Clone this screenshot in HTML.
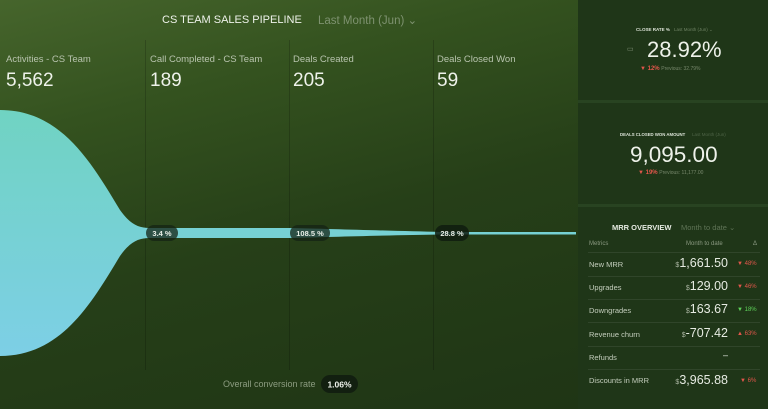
<!DOCTYPE html>
<html><head><meta charset="utf-8"><style>
*{margin:0;padding:0;box-sizing:border-box}
body{width:768px;height:409px;overflow:hidden;font-family:"Liberation Sans",sans-serif;background:#23381a;position:relative}
.main{position:absolute;left:0;top:0;width:578px;height:409px;background:linear-gradient(165deg,#46652c 0%,#34521f 25%,#263f18 55%,#1f3515 100%)}
.side{position:absolute;left:578px;top:0;width:190px;height:409px;background:#1f3618}
.t{position:absolute;white-space:nowrap}
.lbl{font-size:9.5px;color:#b8c4ae}
.big{font-size:19px;color:#eef2ea}
.vl{position:absolute;top:40px;width:1px;height:330px;background:rgba(0,0,0,0.18)}
.row{position:absolute;left:588px;width:172px;height:1px;background:rgba(255,255,255,0.08)}
.ml{font-size:7.5px;color:#c4cebd}
.mv{font-size:12.5px;color:#e6ebe2;text-align:right}
.mv small{font-size:7px;color:#aab5a2}
.red{color:#e2564b}.grn{color:#5fd35a}
.pc{font-size:6px}
</style></head><body>
<div class="main"></div>
<div class="side"></div>
<div style="position:absolute;left:578px;top:100px;width:190px;height:3px;background:#284321"></div>
<div style="position:absolute;left:578px;top:204px;width:190px;height:3px;background:#284321"></div>

<div class="vl" style="left:145px"></div>
<div class="vl" style="left:289px"></div>
<div class="vl" style="left:433px"></div>

<div class="t" style="left:162px;top:14px;font-size:11px;color:#eef2ea">CS TEAM SALES PIPELINE</div>
<div class="t" style="left:318px;top:13px;font-size:11.5px;color:#7e9270">Last Month (Jun) ⌄</div>

<div class="t lbl" style="left:6px;top:54px">Activities - CS Team</div>
<div class="t big" style="left:6px;top:70px">5,562</div>
<div class="t lbl" style="left:150px;top:54px">Call Completed - CS Team</div>
<div class="t big" style="left:150px;top:70px">189</div>
<div class="t lbl" style="left:293px;top:54px">Deals Created</div>
<div class="t big" style="left:293px;top:70px">205</div>
<div class="t lbl" style="left:437px;top:54px">Deals Closed Won</div>
<div class="t big" style="left:437px;top:70px">59</div>

<svg style="position:absolute;left:0;top:0" width="578" height="409">
<defs><linearGradient id="g" x1="0" y1="0" x2="0" y2="1"><stop offset="0" stop-color="#70d3c2"/><stop offset="1" stop-color="#7dcfe6"/></linearGradient></defs>
<path d="M0,110 C60,110 90,160 120,210 C130,224 138,228 150,228 L290,228 C330,229 400,231 440,232 L576,232 L576,234.5 L440,234.5 C400,235 330,237 290,238 L150,238 C138,238 130,242 120,256 C90,306 60,356 0,356 Z" fill="url(#g)"/>
<rect x="146" y="225" width="32" height="16" rx="8" fill="rgba(20,35,20,0.75)"/>
<text x="162" y="236" font-size="7.5" fill="#e8eee6" text-anchor="middle" font-family="Liberation Sans" font-weight="bold">3.4 %</text>
<rect x="290" y="225" width="40" height="16" rx="8" fill="rgba(20,35,20,0.75)"/>
<text x="310" y="236" font-size="7.5" fill="#e8eee6" text-anchor="middle" font-family="Liberation Sans" font-weight="bold">108.5 %</text>
<rect x="435" y="225" width="34" height="16" rx="8" fill="rgba(15,28,15,0.85)"/>
<text x="452" y="236" font-size="7.5" fill="#e8eee6" text-anchor="middle" font-family="Liberation Sans" font-weight="bold">28.8 %</text>
<rect x="321" y="375" width="37" height="18" rx="9" fill="#121f10"/>
<text x="339.5" y="387.5" font-size="8.5" fill="#f0f4ee" text-anchor="middle" font-family="Liberation Sans" font-weight="bold">1.06%</text>
</svg>
<div class="t" style="left:223px;top:379px;font-size:9px;color:#8c9c80">Overall conversion rate</div>

<!-- close rate -->
<div class="t" style="left:636px;top:27px;font-size:4.5px;color:#dde4d8;font-weight:bold">CLOSE RATE %</div>
<div class="t" style="left:674px;top:27px;font-size:4.5px;color:#6f8364">Last Month (Jun) ⌄</div>
<div class="t" style="left:627px;top:45px;font-size:7px;color:#7f8f76">▭</div>
<div class="t" style="left:647px;top:37px;font-size:22px;color:#eef2ea">28.92%</div>
<div class="t" style="left:640px;top:66px;font-size:6px"><span class="red" style="font-weight:bold">▼ 12%</span> <span style="color:#77886c;font-size:5px">Previous: 32.79%</span></div>

<!-- deals closed won amount -->
<div class="t" style="left:620px;top:132px;font-size:4.3px;color:#dde4d8;font-weight:bold">DEALS CLOSED WON AMOUNT</div>
<div class="t" style="left:692px;top:132px;font-size:4.5px;color:#4f6447">Last Month (Jun)</div>
<div class="t" style="left:630px;top:142px;font-size:22.5px;color:#eef2ea">9,095.00</div>
<div class="t" style="left:638px;top:170px;font-size:6px"><span class="red" style="font-weight:bold">▼ 19%</span> <span style="color:#77886c;font-size:5px">Previous: 11,177.00</span></div>

<!-- MRR -->
<div class="t" style="left:612px;top:223px;font-size:7.5px;color:#e6ebe2;font-weight:bold">MRR OVERVIEW</div>
<div class="t" style="left:681px;top:223px;font-size:7.5px;color:#5f7456">Month to date ⌄</div>
<div class="t" style="left:589px;top:241px;font-size:6px;color:#8a9880">Metrics</div>
<div class="t" style="left:686px;top:241px;font-size:6px;color:#8a9880">Month to date</div>
<div class="t" style="left:753px;top:241px;font-size:6px;color:#8a9880">Δ</div>

<div class="row" style="top:252px"></div>
<div class="row" style="top:276px"></div>
<div class="row" style="top:299px"></div>
<div class="row" style="top:322px"></div>
<div class="row" style="top:346px"></div>
<div class="row" style="top:369px"></div>

<div class="t ml" style="left:589px;top:260px">New MRR</div>
<div class="t mv" style="right:40px;top:256px"><small>$</small>1,661.50</div>
<div class="t pc red" style="left:737px;top:261px">▼ 48%</div>

<div class="t ml" style="left:589px;top:283px">Upgrades</div>
<div class="t mv" style="right:40px;top:279px"><small>$</small>129.00</div>
<div class="t pc red" style="left:737px;top:284px">▼ 46%</div>

<div class="t ml" style="left:589px;top:306px">Downgrades</div>
<div class="t mv" style="right:40px;top:302px"><small>$</small>163.67</div>
<div class="t pc grn" style="left:737px;top:307px">▼ 18%</div>

<div class="t ml" style="left:589px;top:330px">Revenue churn</div>
<div class="t mv" style="right:40px;top:326px"><small>$</small>-707.42</div>
<div class="t pc red" style="left:737px;top:331px">▲ 63%</div>

<div class="t ml" style="left:589px;top:353px">Refunds</div>
<div class="t mv" style="right:40px;top:350px;font-size:9px">–</div>

<div class="t ml" style="left:589px;top:376px">Discounts in MRR</div>
<div class="t mv" style="right:40px;top:373px"><small>$</small>3,965.88</div>
<div class="t pc red" style="left:740px;top:378px">▼ 6%</div>
</body></html>
